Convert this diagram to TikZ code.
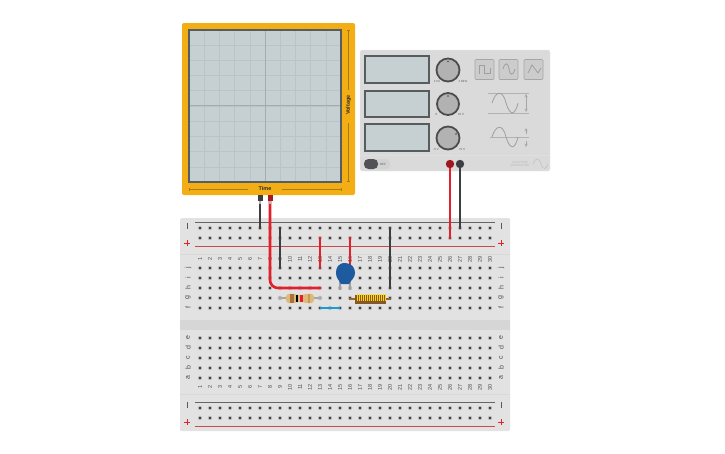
\documentclass[tikz,border=0pt]{standalone}
\usepackage{fontspec}
\setmainfont{Liberation Sans}
\usetikzlibrary{calc}
\definecolor{scopeorange}{HTML}{F2AE14}
\definecolor{lcdgrey}{HTML}{C6CFD1}
\definecolor{lcdedge}{HTML}{555D5E}
\definecolor{gridline}{HTML}{BAC3C5}
\definecolor{axisline}{HTML}{A3ACAE}
\definecolor{panelgrey}{HTML}{DADADA}
\definecolor{boardgrey}{HTML}{E2E2E2}
\definecolor{wirered}{HTML}{E3202A}
\definecolor{wireblack}{HTML}{3C3F42}
\definecolor{railred}{HTML}{C94A4A}
\definecolor{capblue}{HTML}{1D5A9E}
\definecolor{wireblue}{HTML}{1C9AD6}
\definecolor{restan}{HTML}{DDB97A}
\tikzset{
  lcd/.style={fill=lcdgrey,draw=lcdedge,line width=2pt},
  knob/.style={fill=gray!60,draw=gray!60!black,line width=1.8pt},
  keybox/.style={fill=gray!40,draw=gray!70,line width=.6pt,rounded corners=1pt},
  curve/.style={draw=gray!75,line width=.8pt},
  tinytext/.style={font=\fontsize{3}{3}\selectfont,text=gray!70!black,inner sep=0pt},
  pinlabel/.style={font=\fontsize{5.5}{5.5}\selectfont,text=gray!60!black,inner sep=0pt,rotate=90},
  jumper/.style={line width=2.6pt,line cap=round}
}
\begin{document}
\begin{tikzpicture}[x=1pt,y=-1pt]
\useasboundingbox (0,0) rectangle (725,453);
\fill[white] (0,0) rectangle (725,453);
\fill[boardgrey,rounded corners=1.5pt] (180,218) rectangle (510,431);
\fill[gray!32] (180,320) rectangle (510,330);
\draw[gray!30,line width=.5pt] (180,254) -- (510,254);
\draw[gray!30,line width=.5pt] (180,394) -- (510,394);
\foreach \c in {1,...,30}{
  \pgfmathsetmacro{\px}{190+10*\c}
  \foreach \r/\y in {tm/228,tp/238,j/268,i/278,h/288,g/298,f/308,e/338,d/348,c/358,b/368,a/378,bm/408,bp/418}{
    \coordinate (\r\c) at (\px,\y);
    \fill[gray!45] (\r\c) circle (2.3);
    \fill[black!80] (\r\c) circle (1.4);
  }
  \node[pinlabel] (numtop\c) at (\px,259) {\c};
  \node[pinlabel] (numbot\c) at (\px,387) {\c};
}
\foreach \r/\y in {j/268,i/278,h/288,g/298,f/308,e/338,d/348,c/358,b/368,a/378}{
  \node[pinlabel,font=\fontsize{7}{7}\selectfont] (left\r) at (188,\y) {\r};
  \node[pinlabel,font=\fontsize{7}{7}\selectfont] (right\r) at (501,\y) {\r};
}
\draw[wireblack!80,line width=1pt] (195,222.5) -- (495,222.5);
\draw[railred,line width=1pt] (195,246) -- (495,246);
\draw[wireblack!80,line width=1pt] (195,402) -- (495,402);
\draw[railred,line width=1pt] (195,426) -- (495,426);
\foreach \xx in {187,501}{
  \draw[gray!70!black,line width=.8pt] (\xx,222.5) -- (\xx,228.5);
  \draw[gray!70!black,line width=.8pt] (\xx,402) -- (\xx,408);
  \draw[wirered,line width=.8pt] (\xx-3,243) -- (\xx+3,243) (\xx,240) -- (\xx,246);
  \draw[wirered,line width=.8pt] (\xx-3,422) -- (\xx+3,422) (\xx,419) -- (\xx,425);
}

\fill[scopeorange,rounded corners=2pt] (182,23) rectangle (355,195);
\fill[lcdgrey] (189,29.5) rectangle (341,182);
\foreach \i in {1,...,9}{
  \draw[gridline,line width=.4pt] (189+15.2*\i,30) -- (189+15.2*\i,181);
  \draw[gridline,line width=.4pt] (190,29.5+15.25*\i) -- (340,29.5+15.25*\i);
}
\draw[axisline,line width=.6pt] (265,30) -- (265,181);
\draw[axisline,line width=.6pt] (190,105.75) -- (340,105.75);
\draw[lcdedge,line width=2pt] (189,29.5) rectangle (341,182);
\node[font=\bfseries\fontsize{5.5}{5.5}\selectfont,text=gray!35!black,inner sep=0pt] (timelabel) at (265,189) {Time};
\node[font=\bfseries\fontsize{5.5}{5.5}\selectfont,text=gray!35!black,inner sep=0pt,rotate=90] (voltlabel) at (348.5,105) {Voltage};
\draw[black!30!scopeorange,line width=.4pt] (189,187.5) -- (189,190.5) (189,189) -- (248,189) (282,189) -- (341,189) (341,187.5) -- (341,190.5);
\draw[black!30!scopeorange,line width=.4pt] (346.5,30) -- (349.5,30) (348,30) -- (348,90) (348,123) -- (348,181) (346.5,181) -- (349.5,181);

\fill[panelgrey,rounded corners=1.5pt,draw=gray!15] (360,50) rectangle (550,171);
\draw[gray!25,line width=.5pt] (360,155) -- (550,155);
\draw[lcd] (365,56) rectangle (429,83);
\draw[lcd] (365,90.5) rectangle (429,117);
\draw[lcd] (365,123.5) rectangle (429,150.5);
\draw[knob] (448,70) circle (11.5);
\draw[knob] (448,104) circle (11);
\draw[knob] (448,138) circle (11.5);
\fill[black!70] (448,61.5) circle (.8) (448,96) circle (.8) (456,134) circle (.8);
\node[tinytext] (freqlow) at (437,81) {1 Hz};
\node[tinytext] (freqhigh) at (463,81) {1 MHz};
\node[tinytext] (amplow) at (436.5,114.5) {0};
\node[tinytext] (amphigh) at (461,114.5) {10 V};
\node[tinytext] (offlow) at (436,149) {-5 V};
\node[tinytext] (offhigh) at (462,149) {+5 V};
\draw[keybox] (475,59.5) rectangle (494,79.5);
\draw[keybox] (499,59.5) rectangle (518,79.5);
\draw[keybox] (524,59.5) rectangle (543,79.5);
\draw[curve] (479,74) -- (479,65) -- (484,65) -- (484,73) -- (490,73) -- (490,68);
\draw[curve] (503,69) .. controls (505,62) and (508,62) .. (509,69) .. controls (510,76) and (513,76) .. (515,69);
\draw[curve] (528,73) -- (532,65) -- (538,73) -- (541,68);
\draw[gray!60,line width=.5pt] (488,93) -- (529,93) (488,113) -- (529,113);
\draw[curve] (492,103) .. controls (496,90) and (503,90) .. (506,103) .. controls (510,116) and (515,116) .. (518,103);
\draw[gray!70,line width=.5pt,<->,>=stealth] (526,94) -- (526,112);
\draw[gray!60,line width=.5pt] (490,137) -- (529,137);
\draw[curve] (492,137) .. controls (496,124) and (503,124) .. (506,137) .. controls (510,150) and (515,150) .. (518,137);
\draw[gray!70,line width=.5pt,<-,>=stealth] (526,128) -- (526,134);
\draw[gray!70,line width=.5pt,<-,>=stealth] (526,147) -- (526,141);
\fill[gray!35,rounded corners=4pt] (364,159) rectangle (390,169);
\fill[wireblack!90,rounded corners=4.5pt] (364,159) rectangle (378,169);
\node[tinytext] (offtext) at (383,164) {OFF};
\node[tinytext,text=gray!55,align=center] (brand) at (520,163.5) {FUNCTION\\GENERATOR};
\draw[gray!55,line width=.4pt] (533,164) .. controls (536,157) and (539,157) .. (541,164) .. controls (543,170) and (546,170) .. (548,164);

\coordinate (scopeblack) at (260,197);
\coordinate (scopered) at (270,197);
\coordinate (genred) at (450,164);
\coordinate (genblack) at (460,164);
\draw[jumper,wirered] (genred) -- (tp26);
\draw[jumper,wireblack] (genblack) -- (tm27);
\fill[wirered!70!black] (genred) circle (4.2);
\fill[wireblack] (genblack) circle (4.2);
\draw[jumper,wireblack] (scopeblack) -- (tm7);
\draw[jumper,wirered,rounded corners=8pt] (scopered) -- (h8) -- (h13);
\draw[gray!60,line width=2pt] (260,199) -- (260,204);
\draw[gray!60,line width=2pt] (270,199) -- (270,204);
\draw[wireblack,line width=5pt] (260,195) -- (260,201);
\draw[wirered!75!black,line width=5pt] (270,195) -- (270,201);
\draw[jumper,wireblack] (tm9) -- (j9);
\draw[jumper,wirered] (tp13) -- (j13);
\draw[jumper,wirered] (tp16) -- (j16);
\draw[jumper,wireblack] (tm20) -- (h20);
\draw[jumper,wireblue,line cap=butt] (f13) -- (f15);

\draw[gray!70,line width=1.4pt] (g9) -- (g13);
\fill[gray!65] (g13) circle (1.8);
\fill[gray!65] (g9) circle (1.8);
\fill[restan] (288,294) .. controls (292,293) and (296,295) .. (300,295) .. controls (304,295) and (308,293) .. (312,294) .. controls (315,296) and (315,301) .. (312,303) .. controls (308,304) and (304,302) .. (300,302) .. controls (296,302) and (292,304) .. (288,303) .. controls (285,301) and (285,296) .. (288,294) -- cycle;
\fill[brown!90!black] (290,293.7) rectangle (294,303.3);
\fill[black] (296,295) rectangle (298,302);
\fill[wirered] (300,295) rectangle (303,302);
\fill[brown!60!restan] (308,294) rectangle (309.5,303);

\draw[gray!75,line width=2.2pt] (340,280) -- (340,290);
\draw[gray!75,line width=2.2pt] (350,280) -- (350,290);
\fill[capblue] (345,263) .. controls (352,263) and (355,268) .. (355,273) .. controls (355,278) and (351,280) .. (349,284) -- (341,284) .. controls (339,280) and (336,278) .. (336,273) .. controls (336,268) and (338,263) .. (345,263) -- cycle;

\draw[brown!80!black,line width=1.6pt] (349,299) -- (391,299);
\fill[brown!70!black] (355,295) rectangle (386,303.5);
\foreach \t in {0,...,14}{
  \fill[yellow!75!orange] (356.5+2*\t,294) rectangle (357.5+2*\t,300.5);
}
\end{tikzpicture}
\end{document}
